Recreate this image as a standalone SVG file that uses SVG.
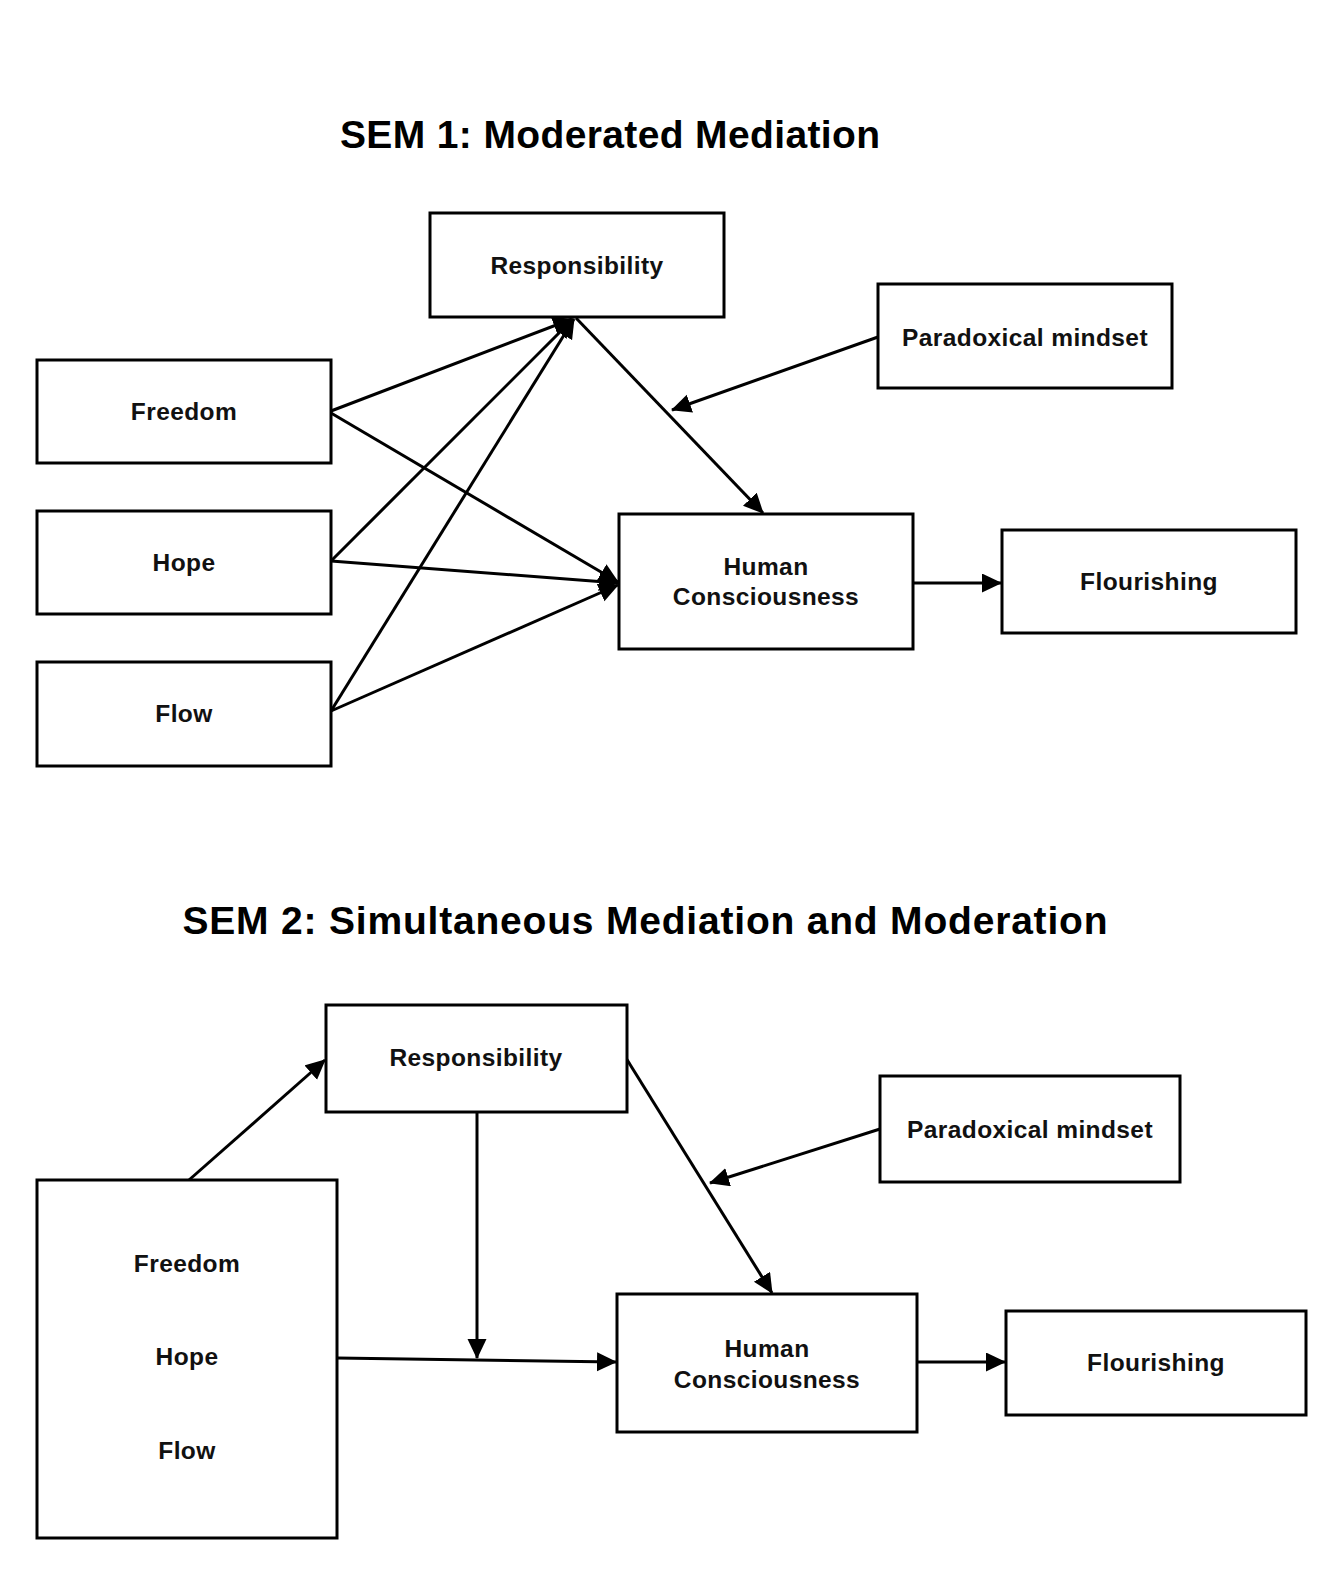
<svg xmlns="http://www.w3.org/2000/svg" width="1317" height="1576" viewBox="0 0 1317 1576">
<defs>
<marker id="ah" markerUnits="userSpaceOnUse" markerWidth="22" markerHeight="20" refX="19" refY="9.5" orient="auto">
<path d="M0,0 L20,9.5 L0,19 z" fill="#000"/>
</marker>
<style>
.box{fill:#fff;stroke:#000;stroke-width:3}
.lbl{font-family:"Liberation Sans",Arial,sans-serif;font-weight:bold;font-size:24.5px;letter-spacing:0.4px;text-anchor:middle;fill:#111}
.ttl{font-family:"Liberation Sans",Arial,sans-serif;font-weight:bold;font-size:39px;text-anchor:middle;fill:#000}
.c{stroke:#000;stroke-width:3;fill:none;marker-end:url(#ah)}
</style>
</defs>
<rect width="1317" height="1576" fill="#fff"/>
<text class="ttl" x="610" y="148" textLength="540" lengthAdjust="spacing">SEM 1: Moderated Mediation</text>
<text class="ttl" x="645" y="934" textLength="925" lengthAdjust="spacing">SEM 2: Simultaneous Mediation and Moderation</text>

<g id="connectors">
<line class="c" x1="331" y1="411" x2="572" y2="319"/>
<line class="c" x1="331" y1="561" x2="573" y2="319"/>
<line class="c" x1="331" y1="711" x2="574" y2="319"/>
<line class="c" x1="331" y1="413" x2="618" y2="582"/>
<line class="c" x1="331" y1="561" x2="618" y2="583"/>
<line class="c" x1="331" y1="711" x2="618" y2="585"/>
<line class="c" x1="576" y1="318" x2="763" y2="513"/>
<line class="c" x1="878" y1="337" x2="672" y2="410"/>
<line class="c" x1="913" y1="583" x2="1001" y2="583"/>

<line class="c" x1="189" y1="1180" x2="325" y2="1060"/>
<line class="c" x1="477" y1="1112" x2="477" y2="1358"/>
<line class="c" x1="337" y1="1358" x2="616" y2="1362"/>
<line class="c" x1="626" y1="1058" x2="772" y2="1293"/>
<line class="c" x1="880" y1="1129" x2="710" y2="1183"/>
<line class="c" x1="917" y1="1362" x2="1005" y2="1362"/>
</g>

<g id="sem1-responsibility"><rect class="box" x="430" y="213" width="294" height="104"/><text class="lbl" x="577" y="274">Responsibility</text></g>
<g id="sem1-paradoxical"><rect class="box" x="878" y="284" width="294" height="104"/><text class="lbl" x="1025" y="346">Paradoxical mindset</text></g>
<g id="sem1-freedom"><rect class="box" x="37" y="360" width="294" height="103"/><text class="lbl" x="184" y="420">Freedom</text></g>
<g id="sem1-hope"><rect class="box" x="37" y="511" width="294" height="103"/><text class="lbl" x="184" y="571">Hope</text></g>
<g id="sem1-flow"><rect class="box" x="37" y="662" width="294" height="104"/><text class="lbl" x="184" y="722">Flow</text></g>
<g id="sem1-hc"><rect class="box" x="619" y="514" width="294" height="135"/><text class="lbl" x="766" y="575">Human</text><text class="lbl" x="766" y="605">Consciousness</text></g>
<g id="sem1-flourishing"><rect class="box" x="1002" y="530" width="294" height="103"/><text class="lbl" x="1149" y="590">Flourishing</text></g>

<g id="sem2-responsibility"><rect class="box" x="326" y="1005" width="301" height="107"/><text class="lbl" x="476" y="1066">Responsibility</text></g>
<g id="sem2-paradoxical"><rect class="box" x="880" y="1076" width="300" height="106"/><text class="lbl" x="1030" y="1138">Paradoxical mindset</text></g>
<g id="sem2-predictors"><rect class="box" x="37" y="1180" width="300" height="358"/><text class="lbl" x="187" y="1272">Freedom</text><text class="lbl" x="187" y="1365">Hope</text><text class="lbl" x="187" y="1459">Flow</text></g>
<g id="sem2-hc"><rect class="box" x="617" y="1294" width="300" height="138"/><text class="lbl" x="767" y="1357">Human</text><text class="lbl" x="767" y="1388">Consciousness</text></g>
<g id="sem2-flourishing"><rect class="box" x="1006" y="1311" width="300" height="104"/><text class="lbl" x="1156" y="1371">Flourishing</text></g>
</svg>
